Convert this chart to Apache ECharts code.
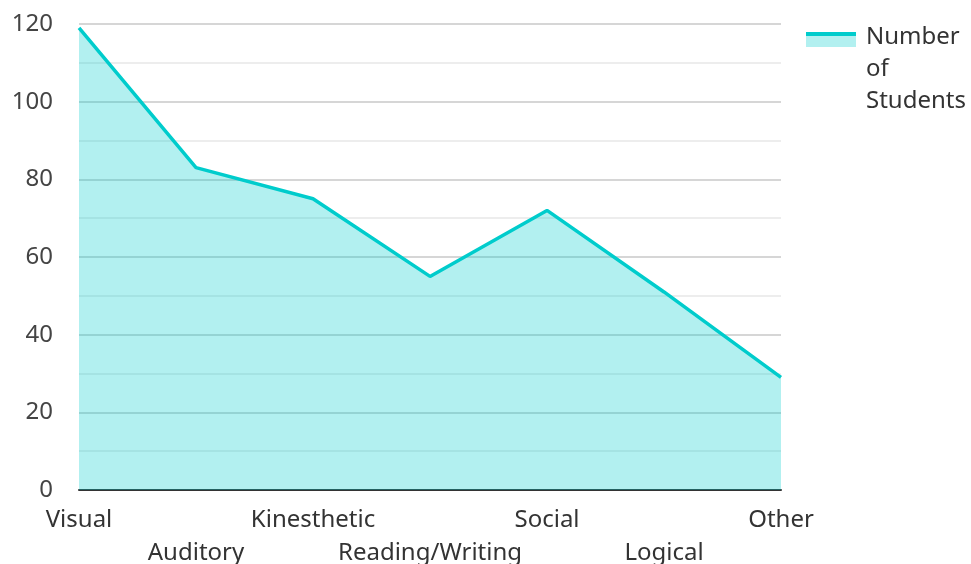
<!DOCTYPE html>
<html><head><meta charset="utf-8">
<script src="https://cdn.jsdelivr.net/npm/echarts@6/dist/echarts.min.js"></script>
<style>html,body{margin:0;padding:0;background:#fff}#c{width:971px;height:564px}</style>
</head><body><div id="c"></div>
<script>
const categories = ['Visual','Auditory','Kinesthetic','Reading/Writing','Social','Logical','Other'];
const students = [119, 83, 75, 55, 72, 51, 29];
const seriesName = 'Number of Students';
const FONT = 'Noto Sans';
const chart = echarts.init(document.getElementById('c'));
chart.setOption({
  animation: false,
  textStyle: {fontFamily: FONT},
  grid: {left: 79, right: 190, top: 24, bottom: 74, outerBoundsMode: 'none', containLabel: false},
  legend: {
    data: [{name: seriesName, icon: 'path://M0,0h0.05v0.05h-0.05z M0,15h50v11h-50z M0,95.95h0.05v0.05h-0.05z'}],
    left: 806, top: 21, padding: 0,
    itemWidth: 50, itemHeight: 96,
    itemStyle: {color: '#b2f0f0', borderWidth: 0},
    formatter: () => 'Number\nof\nStudents',
    textStyle: {fontFamily: FONT, fontSize: 24, color: '#333', lineHeight: 32, padding: [0, 0, 0, 5]}
  },
  graphic: [{type: 'rect', shape: {x: 806, y: 32, width: 50, height: 4}, style: {fill: '#00cccc'}, z: 100}],
  xAxis: {
    type: 'category', data: categories, boundaryGap: false,
    axisLine: {lineStyle: {color: '#333', width: 2}},
    axisTick: {show: false},
    axisLabel: {
      interval: 0, margin: 13, fontSize: 24, color: '#333', lineHeight: 33.5, fontFamily: FONT,
      formatter: (v, i) => (i % 2 === 1 ? '\n' + v : v)
    }
  },
  yAxis: {
    type: 'value', min: 0, max: 120, interval: 20,
    axisLine: {show: false}, axisTick: {show: false},
    axisLabel: {margin: 26, fontSize: 24, color: '#444', fontFamily: FONT, padding: [3, 0, 0, 0]},
    splitLine: {lineStyle: {color: '#c8c8c8', width: 1.5}},
    minorTick: {show: false, splitNumber: 2},
    minorSplitLine: {show: true, lineStyle: {color: '#e8e8e8', width: 1.5}}
  },
  series: [{
    name: seriesName, type: 'line', data: students,
    symbol: 'none', lineStyle: {color: '#00cccc', width: 3.5},
    itemStyle: {color: '#00cccc'},
    areaStyle: {color: '#00cccc', opacity: 0.3}
  }]
});
</script></body></html>
